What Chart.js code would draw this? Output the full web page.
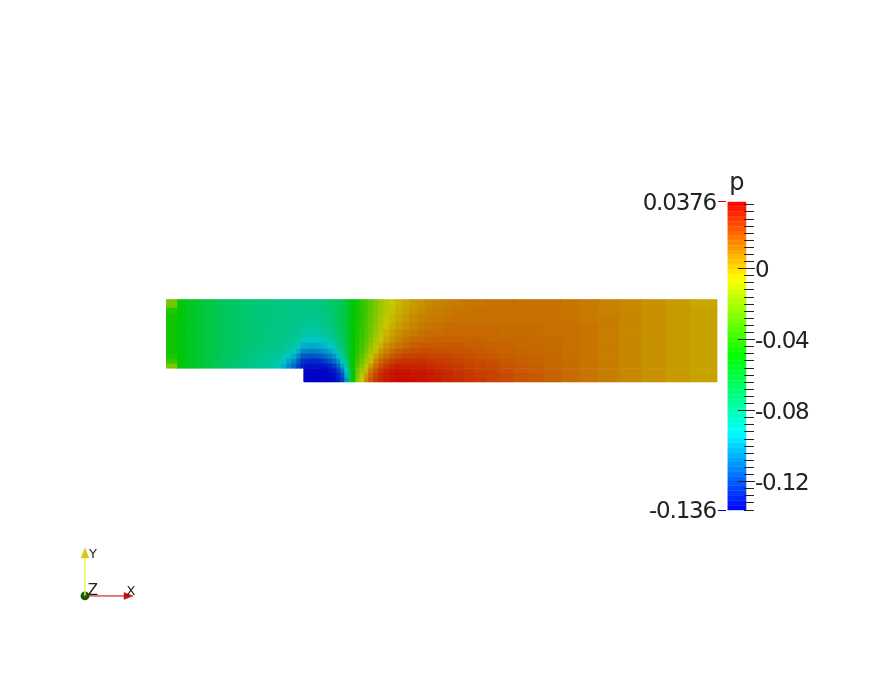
<!DOCTYPE html>
<html>
<head>
<meta charset="utf-8">
<script src="https://cdn.jsdelivr.net/npm/chart.js@4"></script>
<style>html,body{margin:0;padding:0;background:#fff}#wrap{width:884px;height:682px}</style>
</head>
<body>
<div id="wrap"><canvas id="c" width="884" height="682"></canvas></div>
<script>
// mesh column edges (x) and row edges (y), in domain units
const xEdges = [-10,-9.24,-8.58,-7.93,-7.27,-6.62,-6.04,-5.45,-4.87,-4.36,-3.85,-3.35,-2.91,-2.47,-2.04,-1.67,-1.31,-0.95,-0.58,-0.29,0,
  0.29,0.58,0.87,1.16,1.45,1.75,2.04,2.33,2.62,2.91,3.2,3.42,3.71,4,4.36,4.65,5.02,5.38,5.75,6.18,6.62,7.13,7.64,8.22,8.8,9.38,10.04,
  10.76,11.56,12.29,13.24,14.18,15.2,16.29,17.38,18.69,20,21.38,22.91,24.51,26.25,28.07,30.04];
const yEdges = [0,0.29,0.65,1,1.31,1.67,2.04,2.4,2.84,3.27,3.78,4.29,4.87,5.38,6];
const _ = null;
// pressure in thousandths, one list per column, bottom row first
const pressure = [
[_,_,_,-22,-38,-43,-46,-46,-46,-46,-46,-46,-42,-24],
[_,_,_,-52,-52,-52,-52,-52,-52,-52,-52,-52,-52,-52],
[_,_,_,-57,-57,-57,-57,-57,-57,-57,-57,-57,-57,-57],
[_,_,_,-61,-61,-61,-61,-61,-61,-61,-61,-61,-61,-61],
[_,_,_,-64,-64,-64,-64,-64,-64,-64,-64,-64,-64,-64],
[_,_,_,-68,-68,-67,-67,-67,-67,-67,-67,-67,-67,-67],
[_,_,_,-71,-70,-70,-70,-69,-69,-69,-69,-69,-69,-69],
[_,_,_,-74,-73,-72,-72,-71,-71,-71,-71,-71,-71,-71],
[_,_,_,-76,-75,-74,-73,-73,-72,-72,-72,-72,-72,-72],
[_,_,_,-78,-77,-76,-75,-74,-74,-74,-74,-74,-74,-74],
[_,_,_,-80,-79,-78,-77,-76,-75,-75,-75,-75,-75,-75],
[_,_,_,-82,-81,-79,-78,-77,-77,-76,-76,-76,-76,-76],
[_,_,_,-83,-82,-81,-79,-78,-78,-77,-77,-76,-76,-76],
[_,_,_,-86,-84,-82,-81,-79,-78,-78,-77,-77,-77,-77],
[_,_,_,-89,-87,-84,-82,-80,-79,-78,-78,-77,-77,-77],
[_,_,_,-97,-93,-88,-84,-81,-79,-78,-78,-77,-77,-77],
[_,_,_,-106,-100,-93,-87,-83,-80,-79,-78,-78,-78,-78],
[_,_,_,-113,-106,-98,-91,-85,-82,-80,-79,-79,-78,-78],
[_,_,_,-122,-116,-107,-98,-90,-85,-82,-80,-79,-79,-78],
[_,_,_,-128,-124,-116,-107,-97,-90,-85,-82,-80,-79,-78],
[-135,-135,-134,-131,-126,-117,-107,-98,-91,-86,-83,-80,-79,-78],
[-136,-136,-135,-132,-127,-118,-108,-99,-91,-86,-83,-80,-79,-78],
[-136,-136,-135,-132,-127,-118,-108,-99,-91,-86,-82,-80,-78,-78],
[-136,-136,-135,-132,-127,-117,-107,-98,-91,-85,-82,-79,-78,-77],
[-136,-135,-135,-131,-125,-115,-105,-97,-90,-84,-81,-78,-77,-76],
[-136,-135,-134,-130,-122,-112,-102,-95,-88,-83,-79,-77,-76,-75],
[-135,-134,-132,-127,-118,-108,-99,-92,-85,-81,-77,-75,-74,-73],
[-133,-132,-129,-122,-112,-103,-95,-87,-81,-77,-74,-72,-72,-71],
[-129,-127,-122,-113,-104,-95,-87,-81,-76,-73,-71,-69,-69,-69],
[-122,-118,-110,-100,-90,-83,-77,-73,-70,-68,-67,-66,-66,-66],
[-104,-98,-90,-82,-76,-71,-68,-66,-64,-63,-62,-62,-62,-62],
[-70,-68,-65,-62,-60,-58,-57,-57,-56,-56,-56,-56,-56,-56],
[-48,-48,-48,-48,-48,-48,-49,-49,-50,-50,-50,-50,-50,-50],
[-20,-24,-28,-32,-36,-38,-40,-42,-43,-44,-44,-45,-45,-45],
[-6,-10,-15,-20,-26,-30,-33,-35,-37,-38,-39,-40,-40,-40],
[8,4,-2,-8,-14,-20,-24,-27,-30,-31,-33,-34,-35,-35],
[18,15,10,4,-3,-9,-14,-18,-21,-24,-26,-27,-28,-29],
[25,23,19,13,8,2,-4,-9,-13,-16,-18,-20,-21,-22],
[29,28,25,20,15,9,4,-1,-5,-8,-11,-13,-15,-16],
[32,31,29,25,20,14,9,5,1,-2,-5,-7,-9,-10],
[34,33,32,28,24,18,13,9,5,2,-1,-3,-5,-6],
[35,34,33,30,26,21,17,12,9,6,3,1,-1,-2],
[35,34,33,30,27,23,19,15,12,9,6,4,2,1],
[34,33,32,30,27,24,20,17,14,11,9,7,5,4],
[33,33,32,29,27,24,21,18,15,13,11,9,7,6],
[32,32,31,28,26,23,21,18,16,14,12,10,9,8],
[31,30,29,27,25,23,20,18,16,14,13,11,10,9],
[29,29,28,26,24,22,20,18,16,15,14,12,11,10],
[28,27,26,25,23,21,19,18,16,15,14,13,12,11],
[26,26,25,23,22,20,19,17,16,15,14,13,12,12],
[25,24,23,22,21,19,18,17,16,15,14,13,13,12],
[23,23,22,21,20,18,17,16,15,15,14,13,13,13],
[21,21,20,19,18,17,16,16,15,14,14,13,13,13],
[19,19,18,18,17,16,16,15,15,14,14,13,13,13],
[18,18,17,17,16,16,15,15,14,14,14,13,13,13],
[16,16,16,15,15,15,14,14,14,13,13,13,13,13],
[14,14,14,14,14,13,13,13,13,13,13,12,12,12],
[12,12,12,12,12,12,12,12,12,12,12,11,11,11],
[10,10,10,10,10,10,10,10,10,10,10,10,9,9],
[8,8,8,8,8,8,8,8,8,8,8,8,8,8],
[6,6,6,6,6,6,6,6,6,6,6,6,6,6],
[4,4,4,4,4,4,4,4,4,4,4,4,4,4],
[2,2,2,2,2,2,2,2,2,2,2,2,2,1]
];
// colour bar
const barEdges = [-136,-133.3,-130.6,-127.9,-125.2,-122.4,-119.7,-117,-114.3,-111.6,-108.9,-106.2,-103.5,-100.7,-98,-95.3,-92.6,-89.9,-87.2,-84.5,-81.8,-79,-76.3,-73.6,-70.9,-68.2,-65.5,-62.8,-60.1,-57.3,-54.6,-51.9,-49.2,-46.5,-43.8,-41.1,-38.4,-35.6,-32.9,-30.2,-27.5,-24.8,-22.1,-19.4,-16.7,-13.9,-11.2,-8.5,-5.8,-3.1,-0.4,2.3,5,7.8,10.5,13.2,15.9,18.6,21.3,24,26.7,29.5,32.2,34.9,37.6];
const majorTicks = [0,-0.04,-0.08,-0.12];
const endTicks = [0.0376,-0.136];
const minorTicks = [-0.136,-0.132,-0.128,-0.124,-0.12,-0.116,-0.112,-0.108,-0.104,-0.1,-0.096,-0.092,-0.088,-0.084,-0.08,-0.076,-0.072,-0.068,-0.064,-0.06,-0.056,-0.052,-0.048,-0.044,-0.04,-0.036,-0.032,-0.028,-0.024,-0.02,-0.016,-0.012,-0.008,-0.004,0,0.004,0.008,0.012,0.016,0.02,0.024,0.028,0.032,0.036];
const pLo = -136, pHi = 37.6;
const barX = [30.84, 32.15];
// orientation triad
const triadX = [[-15.93,-15.56],[-13.09,-15.56]];
const triadY = [[-15.93,-15.56],[-15.93,-12.8]];
const coneX = [[-13.09,-15.31],[-12.44,-15.56],[-13.09,-15.81],[-13.09,-15.31]];
const coneY = [[-16.22,-12.8],[-15.93,-12.07],[-15.64,-12.8],[-16.22,-12.8]];
const origin = [-15.93,-15.56];
const textLabels = [
  {t:'p', x:31.49, y:14.4, font:'24px "DejaVu Sans"'},
  {t:'X', x:-12.58, y:-15.25, font:'13px "DejaVu Sans"'},
  {t:'Y', x:-15.35, y:-12.55, font:'13px "DejaVu Sans"'},
  {t:'Z', x:-15.35, y:-15.2, font:'15px "DejaVu Sans"'}
];

function hsv(h, v) {
  const c = v, hh = h / 60, x = c * (1 - Math.abs(hh % 2 - 1));
  let r = 0, g = 0, b = 0;
  if (hh < 1) { r = c; g = x; } else if (hh < 2) { r = x; g = c; }
  else if (hh < 3) { g = c; b = x; } else if (hh < 4) { g = x; b = c; }
  else if (hh < 5) { r = x; b = c; } else { r = c; b = x; }
  return 'rgb(' + Math.round(r*255) + ',' + Math.round(g*255) + ',' + Math.round(b*255) + ')';
}
const colorOf = (p, v) => hsv(240 * (1 - (p - pLo) / (pHi - pLo)), v);
const pts = a => a.map(q => ({x:q[0], y:q[1]}));
const rect = (x0, x1, y0, y1) => [{x:x0,y:y0},{x:x1,y:y0},{x:x1,y:y1},{x:x0,y:y1},{x:x0,y:y0}];
const LIT = 0.78;

const datasets = [];
function shape(data, color, yAxisID, bw) {
  datasets.push({data, yAxisID, showLine:true, fill:'shape', backgroundColor:color, borderColor:color,
    borderWidth:bw, pointRadius:0, pointHoverRadius:0, tension:0});
}
pressure.forEach((col, i) => col.forEach((p, j) => {
  if (p === null) return;
  shape(rect(xEdges[i], xEdges[i+1], yEdges[j], yEdges[j+1]), colorOf(p, LIT), 'y', 0.6);
}));
for (let k = 0; k < barEdges.length - 1; k++) {
  shape(rect(barX[0], barX[1], barEdges[k]/1000, barEdges[k+1]/1000),
        colorOf((barEdges[k]+barEdges[k+1])/2, 1), 'pLabels', 0.4);
}
datasets.push({data:pts(triadX), yAxisID:'y', showLine:true, fill:false, borderColor:'#c00000', borderWidth:1, pointRadius:0});
datasets.push({data:pts(triadY), yAxisID:'y', showLine:true, fill:false, borderColor:'#f0f060', borderWidth:1.5, pointRadius:0});
shape(pts(coneX), '#c81010', 'y', 0.5);
shape(pts(coneY), '#d8c820', 'y', 0.5);
datasets.push({data:[{x:origin[0], y:origin[1]}], yAxisID:'y', showLine:false, backgroundColor:'#0b5f0b', borderColor:'#0b5f0b', pointRadius:4.4, pointBorderWidth:0});

const textPlugin = {
  id:'textLabels',
  beforeDraw(chart) { chart.ctx.letterSpacing = '-1.2px'; },
  afterDatasetsDraw(chart) {
    const c = chart.ctx, sx = chart.scales.x, sy = chart.scales.y;
    c.save(); c.letterSpacing = '0px'; c.fillStyle = '#222'; c.textAlign = 'center'; c.textBaseline = 'middle';
    textLabels.forEach(l => { c.font = l.font; c.fillText(l.t, sx.getPixelForValue(l.x), sy.getPixelForValue(l.y)); });
    c.restore();
  }
};

const K = 0.000563636;
const pMax = 0.0376 + 202 * K, pMin = -0.136 - 172 * K;
const fontTick = {family:'"DejaVu Sans"', size:23};
function zeroWidth(s) { s.width = 0; s.paddingTop = 0; s.paddingBottom = 0; }
const setTicks = arr => s => { s.ticks = arr.map(v => ({value:v})); };
const pAxis = (arr, pos, extra) => Object.assign({
  type:'linear', axis:'y', min:pMin, max:pMax, position:pos, afterBuildTicks:setTicks(arr), afterFit:zeroWidth
}, extra);

new Chart(document.getElementById('c'), {
  type:'scatter',
  data:{datasets},
  plugins:[textPlugin],
  options:{
    responsive:false, animation:false, events:[],
    layout:{padding:0, autoPadding:false},
    plugins:{legend:{display:false}, tooltip:{enabled:false}, title:{display:false}},
    scales:{
      x:{type:'linear', axis:'x', min:-22.109, max:32.727, display:false},
      y:{type:'linear', axis:'y', min:-21.818, max:27.782, display:false},
      pLabels:pAxis(majorTicks, 'right', {
        afterFit(s){ s.width = 130; s.paddingTop = 0; s.paddingBottom = 0; },
        border:{display:false},
        grid:{display:false, drawTicks:false},
        ticks:{font:fontTick, color:'#222', padding:1, labelOffset:2, autoSkip:false, callback:v => String(v)}
      }),
      pMajor:pAxis(majorTicks, {x:32.8}, {
        border:{display:false},
        grid:{drawOnChartArea:false, tickLength:17, color:'#222', z:1},
        ticks:{display:false}
      }),
      pMinor:pAxis(minorTicks, {x:32.73}, {
        border:{display:false},
        grid:{drawOnChartArea:false, tickLength:10, color:'#222', z:1},
        ticks:{display:false}
      }),
      pEndMark:pAxis(endTicks, {x:30.69}, {
        border:{display:false},
        grid:{drawOnChartArea:false, tickLength:8, z:1, color:c => c.tick && c.tick.value > 0 ? '#d00000' : '#0000c0'},
        ticks:{display:false}
      }),
      pEndLabel:pAxis(endTicks, {x:29.96}, {
        border:{display:false},
        grid:{display:false, drawTicks:false},
        ticks:{font:fontTick, color:'#222', labelOffset:2, autoSkip:false, callback:v => String(v)}
      })
    }
  }
});
</script>
</body>
</html>
